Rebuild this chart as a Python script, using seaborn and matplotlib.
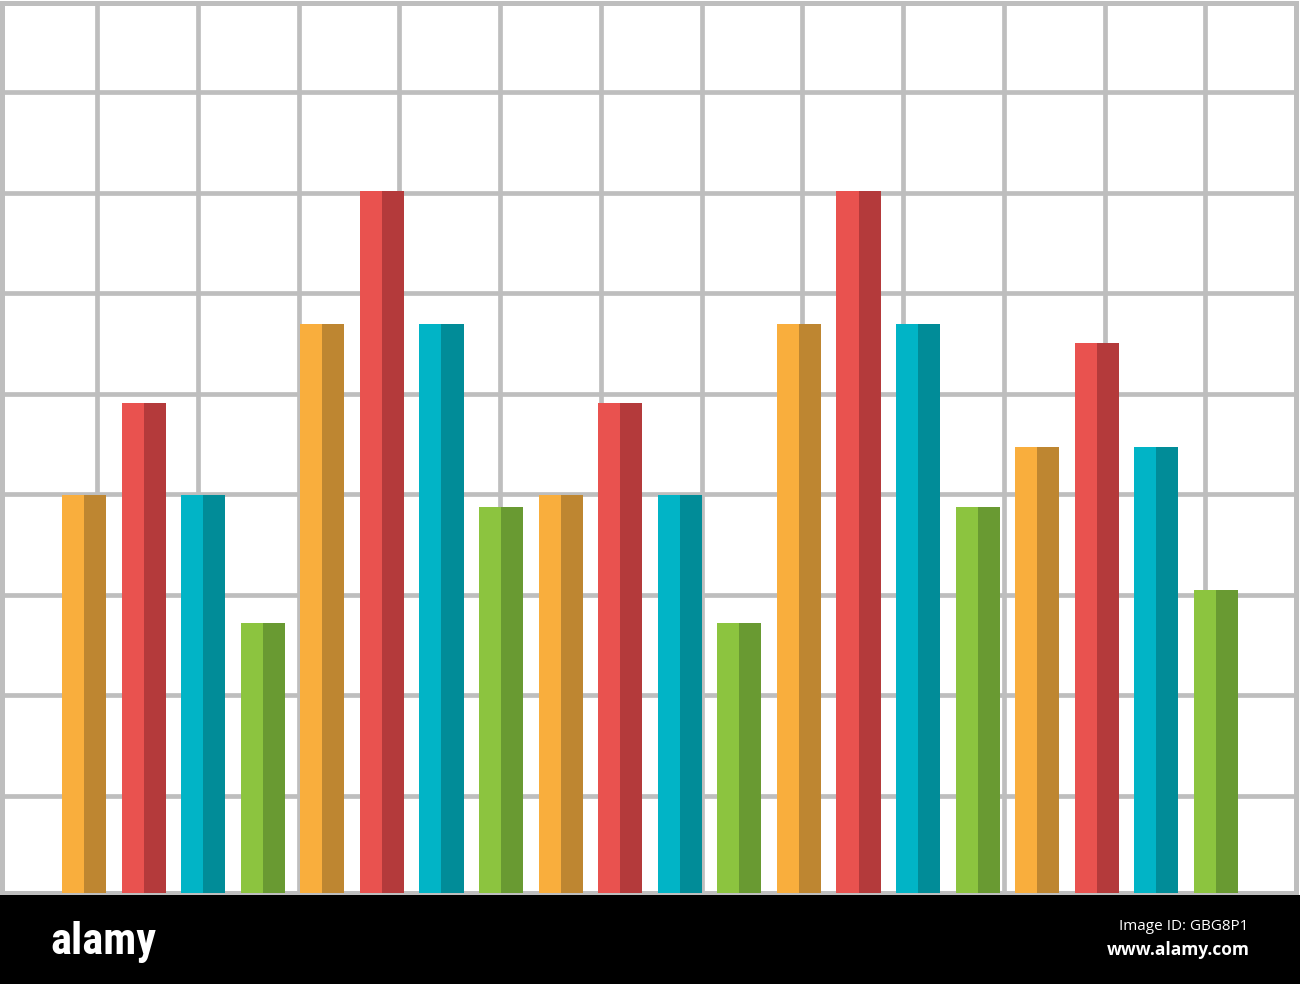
import numpy as np
import matplotlib
matplotlib.use('Agg')
import matplotlib.pyplot as plt
import seaborn as sns
from matplotlib import font_manager
from matplotlib.patches import Rectangle

sns.set_style('white')

# bar heights, in grid cells (one cell = one unit)
bar_labels = [f'b{i + 1}' for i in range(20)]
heights = [3.96, 4.87, 3.96, 2.68, 5.66, 6.98, 5.66, 3.84,
           3.96, 4.87, 3.96, 2.68, 5.66, 6.98, 5.66, 3.84,
           4.43, 5.47, 4.43, 3.01]
series = ['orange', 'red', 'teal', 'green'] * 5

# light face / darker right side per series
light = {'orange': '#F9AE3D', 'red': '#E9524F', 'teal': '#01B4C6', 'green': '#8CC43F'}
dark = {'orange': '#BE8631', 'red': '#B43A3B', 'teal': '#018C98', 'green': '#699A32'}

W, H = 1300, 984
fig = plt.figure(figsize=(W / 100, H / 100), dpi=100)
ax = fig.add_axes([2 / W, 91 / H, 1294 / W, 890 / H])

bar_w = 0.74
sns.barplot(x=bar_labels, y=heights, hue=bar_labels,
            palette=[light[s] for s in series], width=bar_w,
            saturation=1, legend=False, linewidth=0, ax=ax, zorder=3)
ax.bar(np.arange(len(heights)), heights, width=bar_w / 2, align='edge',
       color=[dark[s] for s in series], linewidth=0, zorder=3)

# pixel-based layout of the grid
step = 59.58          # px per bar
x0 = 84               # px of first bar centre
cell = 100.57         # px per grid cell
ax.set_xlim((2 - x0) / step, (1296 - x0) / step)
ax.set_ylim(0, 890 / cell)
ax.set_xticks([(97 + 100.75 * k - x0) / step for k in range(12)])
ax.set_yticks([97 / cell + k for k in range(8)])
ax.set_xticklabels([])
ax.set_yticklabels([])
ax.tick_params(length=0)
ax.set_xlabel('')
ax.set_ylabel('')
ax.grid(True, color='#BEBEBE', linewidth=3.4)
ax.set_axisbelow(True)
for sp in ax.spines.values():
    sp.set_color('#BEBEBE')
    sp.set_linewidth(3.6)

# black footer band
fig.patches.append(Rectangle((0, 0), 1, 89 / H, transform=fig.transFigure,
                             facecolor='black', edgecolor='none', zorder=5))

names = {f.name for f in font_manager.fontManager.ttflist}
logo_font = 'DejaVu Sans'
for cand in ['Liberation Sans Narrow', 'Roboto Condensed', 'DejaVu Sans Condensed']:
    if cand in names:
        logo_font = cand
        break
fig.text(50 / W, 1 - 954 / H, 'alamy', color='white', fontsize=32,
         fontweight='bold', fontstretch='condensed', va='baseline', ha='left',
         zorder=6, family=[logo_font, 'DejaVu Sans'])
fig.text(1248 / W, 1 - 927 / H, 'Image ID: GBG8P1', color='white', fontsize=11,
         va='center', ha='right', zorder=6, family=['Open Sans', 'DejaVu Sans'])
fig.text(1250 / W, 1 - 950 / H, 'www.alamy.com', color='white', fontsize=12.5,
         fontweight='bold', va='center', ha='right', zorder=6,
         family=['Open Sans', 'DejaVu Sans'])

fig.savefig('out.png', dpi=100, facecolor='white')
